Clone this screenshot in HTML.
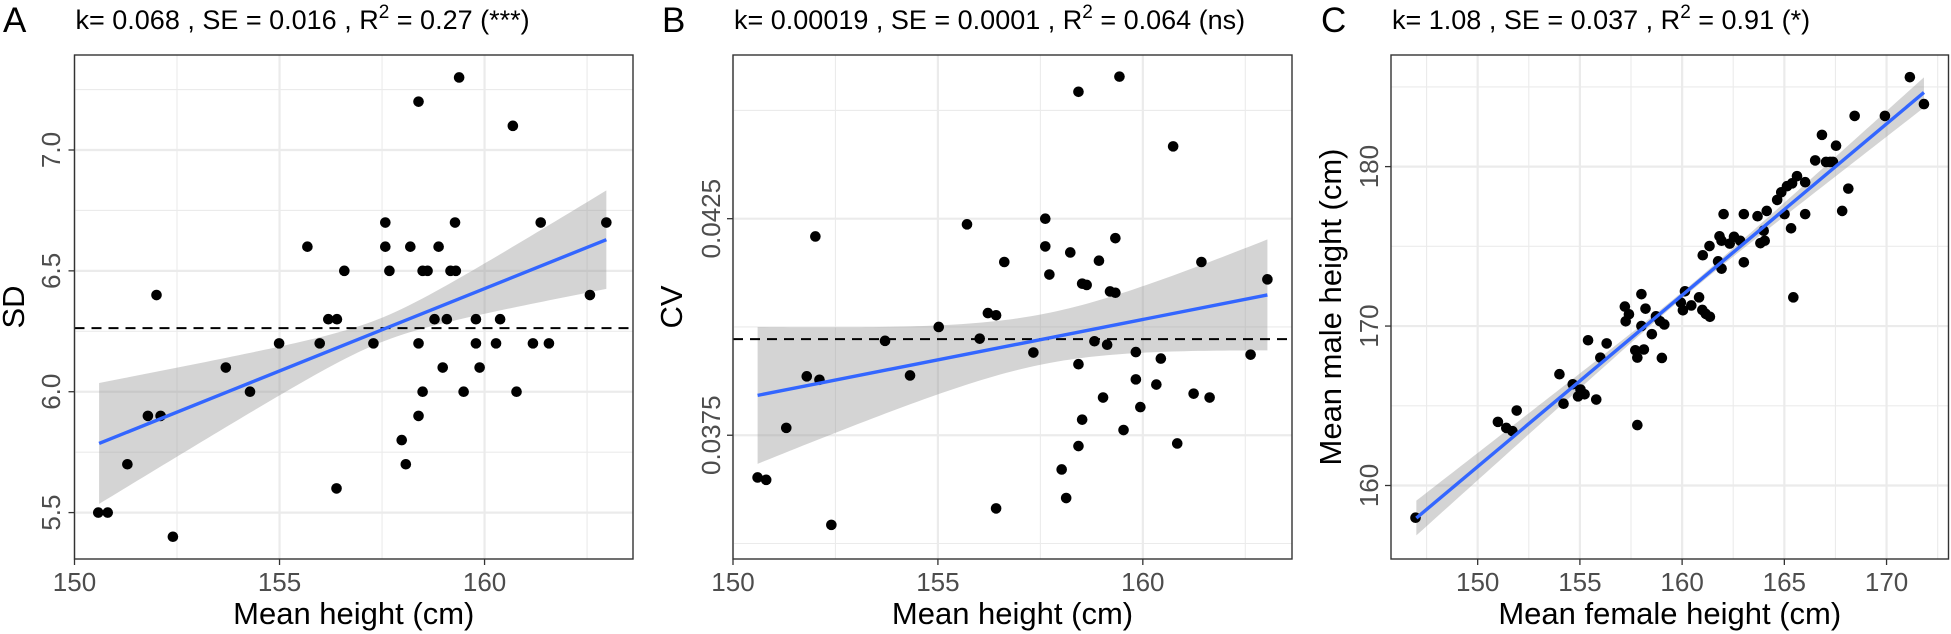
<!DOCTYPE html>
<html><head><meta charset="utf-8"><style>
html,body{margin:0;padding:0;background:#fff;}
svg{display:block;font-family:"Liberation Sans",Arial,sans-serif;}
</style></head><body>
<svg id="fig" width="1951" height="634" viewBox="0 0 1951 634" xmlns="http://www.w3.org/2000/svg"></svg>
<script>
// ---------- Panel A data ----------
const aX=[150.58,150.81,151.29,151.79,152.10,152.0,152.4,153.69,154.28,154.99,155.68,155.98,156.19,156.40,156.39,156.58,157.29,157.58,157.58,157.68,157.98,158.08,158.19,158.39,158.39,158.39,158.49,158.49,158.61,158.78,158.88,158.98,159.08,159.17,159.28,159.30,159.38,159.49,159.79,159.79,159.88,160.28,160.38,160.69,160.78,161.18,161.37,161.57,162.57,162.97];
const aY=[5.5,5.5,5.7,5.9,5.9,6.4,5.4,6.1,6.0,6.2,6.6,6.2,6.3,6.3,5.6,6.5,6.2,6.7,6.6,6.5,5.8,5.7,6.6,7.2,6.2,5.9,6.5,6.0,6.5,6.3,6.6,6.1,6.3,6.5,6.7,6.5,7.3,6.0,6.3,6.2,6.1,6.2,6.3,7.1,6.0,6.2,6.7,6.2,6.4,6.7];
const aFit=[150.6,162.97,5.786,6.629]; // x0,x1,y0,y1
const aBand=[157.45,0.0025,0.00128]; // center, a, b
const aMean=[6.263];
const aXTicks=[150,155,160];
const aYTicks=[5.5,6.0,6.5,7.0];
const aYTickLabels=["5.5","6.0","6.5","7.0"];
// ---------- Panel B data ----------
const bX=[150.60,150.81,151.30,151.80,152.11,152.01,152.40,153.71,154.32,155.02,155.71,156.02,156.22,156.42,156.42,156.62,157.33,157.62,157.62,157.72,158.02,158.13,158.23,158.43,158.43,158.43,158.52,158.52,158.63,158.82,158.93,159.03,159.13,159.20,159.33,159.33,159.43,159.53,159.83,159.83,159.94,160.33,160.44,160.74,160.84,161.24,161.43,161.63,162.63,163.04];
const bY=[0.036525,0.03647,0.03767,0.03886,0.03878,0.04209,0.03543,0.03968,0.03888,0.04000,0.04237,0.03973,0.04032,0.04027,0.03581,0.04150,0.03941,0.04250,0.04186,0.04121,0.03671,0.03605,0.04172,0.04543,0.03914,0.03725,0.04100,0.03786,0.04097,0.03967,0.04153,0.03837,0.03959,0.04082,0.04079,0.04205,0.04578,0.03762,0.03942,0.03879,0.03815,0.03867,0.03927,0.04417,0.03731,0.03846,0.04150,0.03837,0.03936,0.04110];
const bFit=[150.6,163.04,0.03842,0.04074];
const bBand=[157.6,3.36e-7,4.41e-8];
const bMean=[0.03972];
const bXTicks=[150,155,160];
const bYTicks=[0.0375,0.0425];
const bYTickLabels=["0.0375","0.0425"];
// ---------- Panel C data ----------
const cX=[146.96,150.99,151.40,151.70,151.91,154.00,154.20,154.65,154.91,155.03,155.23,155.40,155.80,156.00,156.31,157.20,157.24,157.40,157.71,157.81,157.81,158.01,158.01,158.13,158.21,158.52,158.72,158.92,159.01,159.13,159.94,160.04,160.14,160.45,160.83,160.99,161.16,161.36,161.01,161.34,161.83,161.76,161.93,161.93,162.03,162.33,162.54,162.84,163.02,163.02,163.69,163.83,163.99,164.04,164.14,164.65,164.85,165.01,165.13,165.33,165.38,165.44,165.62,166.02,166.02,166.51,166.84,167.04,167.24,167.38,167.53,167.83,168.13,168.44,169.92,171.14,171.83];
const cY=[157.98,163.99,163.61,163.41,164.70,166.98,165.13,166.35,165.59,166.02,165.72,169.11,165.39,168.02,168.91,171.22,170.30,170.74,168.48,168.02,163.79,172.00,170.00,168.53,171.09,169.49,170.61,170.30,168.00,170.10,171.47,170.99,172.18,171.29,171.80,171.01,170.76,170.58,174.44,175.02,175.63,174.06,173.60,175.35,177.02,175.17,175.60,175.35,177.02,174.00,176.89,175.20,175.98,175.35,177.22,177.91,178.39,177.02,178.77,176.13,178.95,171.80,179.40,179.02,177.02,180.39,181.99,180.29,180.29,180.29,181.31,177.22,178.62,183.18,183.18,185.61,183.92];
const cFit=[147.0,171.83,157.96,184.65];
const cBand=[160.3,0.04,0.00649];
const cXTicks=[150,155,160,165,170];
const cYTicks=[160,170,180];
const cYTickLabels=["160","170","180"];

const NS="http://www.w3.org/2000/svg";
const svg=document.getElementById('fig');
function mk(tag,attrs,parent){const e=document.createElementNS(NS,tag);for(const k in attrs)e.setAttribute(k,attrs[k]);(parent||svg).appendChild(e);return e;}

function panel(o){
  const g=mk('g',{});
  
  
  const sx=v=>o.L+(v-o.xmin)/(o.xmax-o.xmin)*(o.R-o.L);
  const sy=v=>o.B-(v-o.ymin)/(o.ymax-o.ymin)*(o.B-o.T);
  // minor grid
  o.xMinor.forEach(v=>{const l=mk('line',{x1:sx(v),x2:sx(v),y1:o.T,y2:o.B,stroke:'#ebebeb','stroke-width':1.1},g);
    });
  o.yMinor.forEach(v=>{const l=mk('line',{x1:o.L,x2:o.R,y1:sy(v),y2:sy(v),stroke:'#ebebeb','stroke-width':1.1},g);
    });
  o.xTicks.forEach(v=>{const l=mk('line',{x1:sx(v),x2:sx(v),y1:o.T,y2:o.B,stroke:'#ebebeb','stroke-width':2.2},g);
    
    const tk=mk('line',{x1:sx(v),x2:sx(v),y1:o.B,y2:o.B+6,stroke:'#333','stroke-width':1.3},g);
    
    const t=mk('text',{x:sx(v),y:o.B+32,'text-anchor':'middle','font-size':26,fill:'#4d4d4d'},g);t.textContent=String(v);
    });
  o.yTicks.forEach((v,i)=>{const l=mk('line',{x1:o.L,x2:o.R,y1:sy(v),y2:sy(v),stroke:'#ebebeb','stroke-width':2.2},g);
    
    const tk=mk('line',{x1:o.L-6,x2:o.L,y1:sy(v),y2:sy(v),stroke:'#333','stroke-width':1.3},g);
    
    const t=mk('text',{x:0,y:0,'text-anchor':'middle','font-size':26,fill:'#4d4d4d',transform:`translate(${o.ytlX},${sy(v)}) rotate(-90)`},g);t.textContent=o.yLabels[i];
    });
  // ribbon
  const [x0,x1,y0,y1]=o.fit;const k=(y1-y0)/(x1-x0);
  const [m,a,b]=o.band;const up=[],dn=[];
  for(let i=0;i<=80;i++){const x=x0+(x1-x0)*i/80;const y=y0+k*(x-x0);const w=Math.sqrt(a+b*(x-m)*(x-m));up.push(sx(x)+','+sy(y+w));dn.unshift(sx(x)+','+sy(y-w));}
  const rb=mk('polygon',{points:up.concat(dn).join(' '),fill:'#999999','fill-opacity':0.42},g);
  
  if(o.mean){const d=mk('line',{x1:o.L,x2:o.R,y1:sy(o.mean[0]),y2:sy(o.mean[0]),stroke:'#000','stroke-width':2,'stroke-dasharray':'10,7'},g);
    }
  o.xs.forEach((x,i)=>{const c=mk('circle',{cx:sx(x),cy:sy(o.ys[i]),r:5.3,fill:'#000'},g);
    });
  const fl=mk('line',{x1:sx(x0),y1:sy(y0),x2:sx(x1),y2:sy(y1),stroke:'#3366ff','stroke-width':3.4},g);
  
  const bd=mk('rect',{x:o.L,y:o.T,width:o.R-o.L,height:o.B-o.T,fill:'none',stroke:'#333','stroke-width':1.4},g);
  
  const xt=mk('text',{x:(o.L+o.R)/2,y:624,'text-anchor':'middle','font-size':31,fill:'#000'},g);xt.textContent=o.xTitle;
  
  const yt=mk('text',{x:0,y:0,'text-anchor':'middle','font-size':31,fill:'#000',transform:`translate(${o.ytX},${(o.T+o.B)/2}) rotate(-90)`},g);yt.textContent=o.yTitle;
  
  const lt=mk('text',{x:o.letX,y:32,'font-size':35,fill:'#000'},g);lt.textContent=o.letter;
  
  const tt=mk('text',{x:o.L+1,y:29,'font-size':27,fill:'#000'},g);
  
  const s1=mk('tspan',{},tt);s1.textContent=o.t1;
  const s2=mk('tspan',{dy:-11,'font-size':19},tt);s2.textContent='2';
  const s3=mk('tspan',{dy:11},tt);s3.textContent=o.t2;
}

panel({name:'panel-a',L:74.5,R:633,T:55,B:559,xmin:150,xmax:163.62,ymin:5.308,ymax:7.393,
  xTicks:aXTicks,xMinor:[152.5,157.5,162.5],yTicks:aYTicks,yLabels:aYTickLabels,yMinor:[5.75,6.25,6.75,7.25],
  xs:aX,ys:aY,fit:aFit,band:aBand,mean:aMean,ytlX:60,ytX:24,xTitle:'Mean height (cm)',yTitle:'SD',
  letter:'A',letX:3,t1:'k= 0.068 , SE = 0.016 , R',t2:' = 0.27 (***)'});
panel({name:'panel-b',L:733,R:1292,T:55,B:559,xmin:150,xmax:163.64,ymin:0.03465-0.0000-(0.0001*(1384-1375.5)/109.8),ymax:0.0425+(552-137)/10.98*0.0001,
  xTicks:bXTicks,xMinor:[152.5,157.5,162.5],yTicks:bYTicks,yLabels:bYTickLabels,yMinor:[0.035,0.040,0.045],
  xs:bX,ys:bY,fit:bFit,band:bBand,mean:bMean,ytlX:720,ytX:682,xTitle:'Mean height (cm)',yTitle:'CV',
  letter:'B',letX:662,t1:'k= 0.00019 , SE = 0.0001 , R',t2:' = 0.064 (ns)'});
panel({name:'panel-c',L:1391,R:1948.5,T:55,B:559,xmin:145.76,xmax:173.03,ymin:155.39,ymax:187.0,
  xTicks:cXTicks,xMinor:[147.5,152.5,157.5,162.5,167.5,172.5],yTicks:cYTicks,yLabels:cYTickLabels,yMinor:[165,175,185],
  xs:cX,ys:cY,fit:cFit,band:cBand,mean:null,ytlX:1378,ytX:1341,xTitle:'Mean female height (cm)',yTitle:'Mean male height (cm)',
  letter:'C',letX:1321,t1:'k= 1.08 , SE = 0.037 , R',t2:' = 0.91 (*)'});
</script>
</body></html>
